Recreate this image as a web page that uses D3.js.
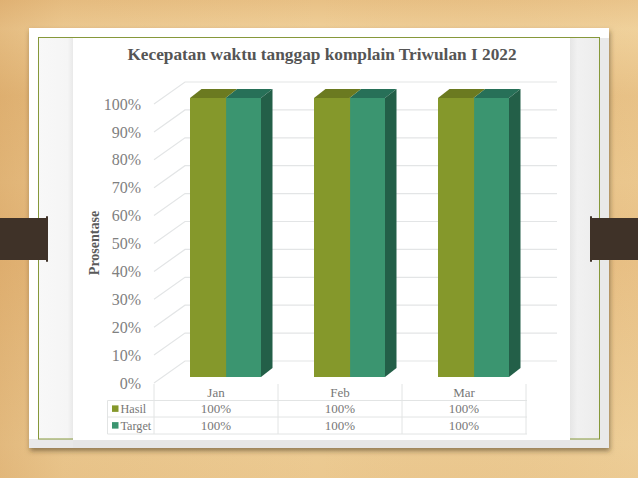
<!DOCTYPE html>
<html lang="en">
<head>
<meta charset="UTF-8">
<title>Kecepatan waktu tanggap komplain Triwulan I 2022</title>
<script src="https://d3js.org/d3.v7.min.js"></script>
<style>
    html, body { margin: 0; padding: 0; background: #e8c48a; }
    svg { display: block; }
    text { font-family: "Liberation Serif", serif; }
    .axis path { display: none; }
    .axis line { display: none; }
    .axis text { font-size: 16px; fill: #808080; }
    .grid { stroke: #e3e5e6; stroke-width: 1.2; fill: none; }
    .cell { stroke: #e2e4e4; stroke-width: 1; fill: none; }
    .tbl { font-size: 13px; fill: #777777; }
</style>
</head>
<body>
<svg width="638" height="478"></svg>
<script>
const months = ["Jan", "Feb", "Mar"];
const seriesNames = ["Hasil", "Target"];
const hasil = [1, 1, 1];
const target = [1, 1, 1];
const yTicks = [0, 0.1, 0.2, 0.3, 0.4, 0.5, 0.6, 0.7, 0.8, 0.9, 1];
const seriesValues = [hasil, target];

const front = ["#85982b", "#3b9570"];
const topFace = ["#6b7a20", "#277058"];
const sideFace = ["#6b7a20", "#235f48"];

const svg = d3.select("svg");
const defs = svg.append("defs");

// wood background
const wood = defs.append("linearGradient").attr("id", "wood").attr("x1", 0).attr("y1", 0).attr("x2", 0).attr("y2", 1);
[[0, "#e8c085"], [0.06, "#efcf98"], [0.2, "#e6bd80"], [0.38, "#e9c388"], [0.55, "#e6bb7e"], [0.75, "#e9c48a"], [0.93, "#eccb93"], [1, "#ebc88f"]]
    .forEach(s => wood.append("stop").attr("offset", s[0]).attr("stop-color", s[1]));
const woodSide = defs.append("linearGradient").attr("id", "woodSide").attr("x1", 0).attr("x2", 1).attr("y1", 0).attr("y2", 0);
[[0, "#c98a45", 0.28], [0.1, "#c98a45", 0.1], [0.5, "#c98a45", 0], [1, "#f3dcae", 0.15]]
    .forEach(s => woodSide.append("stop").attr("offset", s[0]).attr("stop-color", s[1]).attr("stop-opacity", s[2]));
const strip = defs.append("linearGradient").attr("id", "strip").attr("x1", 0).attr("x2", 1).attr("y1", 0).attr("y2", 0);
[[0, "#f8f8f8"], [0.85, "#f5f5f5"], [1, "#e9e9e9"]]
    .forEach(s => strip.append("stop").attr("offset", s[0]).attr("stop-color", s[1]));
const strip2 = defs.append("linearGradient").attr("id", "strip2").attr("x1", 0).attr("x2", 1).attr("y1", 0).attr("y2", 0);
[[0, "#e6e6e6"], [0.25, "#f1f1f1"], [1, "#ececec"]]
    .forEach(s => strip2.append("stop").attr("offset", s[0]).attr("stop-color", s[1]));
defs.append("filter").attr("id", "shadow").attr("x", "-5%").attr("y", "-5%").attr("width", "110%").attr("height", "110%")
    .append("feDropShadow").attr("dx", 1).attr("dy", 3).attr("stdDeviation", 2.5).attr("flood-color", "#4a3a20").attr("flood-opacity", 0.55);

svg.append("rect").attr("width", 638).attr("height", 478).attr("fill", "url(#wood)");
svg.append("rect").attr("width", 638).attr("height", 478).attr("fill", "url(#woodSide)");

// slide card
svg.append("rect").attr("x", 29).attr("y", 28).attr("width", 580).attr("height", 420).attr("fill", "#e9e9e9").attr("filter", "url(#shadow)");
svg.append("rect").attr("x", 29).attr("y", 28).attr("width", 580).attr("height", 10).attr("fill", "#ffffff");
svg.append("rect").attr("x", 29).attr("y", 28).attr("width", 9).attr("height", 411).attr("fill", "#ffffff");
svg.append("rect").attr("x", 38).attr("y", 38).attr("width", 35).attr("height", 401).attr("fill", "url(#strip)");
svg.append("rect").attr("x", 570).attr("y", 38).attr("width", 30).attr("height", 401).attr("fill", "url(#strip2)");
svg.append("rect").attr("x", 73).attr("y", 38).attr("width", 497).attr("height", 410).attr("fill", "#ffffff");
svg.append("rect").attr("x", 73).attr("y", 439).attr("width", 497).attr("height", 9).attr("fill", "#e6e6e6");
svg.append("rect").attr("x", 38.5).attr("y", 37.5).attr("width", 561).attr("height", 401.5).attr("fill", "none").attr("stroke", "#86983a").attr("stroke-width", 1);
svg.append("rect").attr("x", 73).attr("y", 437).attr("width", 497).attr("height", 3).attr("fill", "#ffffff");

// clips at the sides
svg.append("rect").attr("x", 0).attr("y", 218).attr("width", 47).attr("height", 42).attr("fill", "#3f3228");
svg.append("rect").attr("x", 46).attr("y", 216).attr("width", 2).attr("height", 46).attr("rx", 1).attr("fill", "#3f3228");
svg.append("rect").attr("x", 591).attr("y", 218).attr("width", 47).attr("height", 42).attr("fill", "#3f3228");
svg.append("rect").attr("x", 590).attr("y", 216).attr("width", 2).attr("height", 46).attr("rx", 1).attr("fill", "#3f3228");

// scales
const x = d3.scaleBand().domain(months).range([154, 526]);
const y = d3.scaleLinear().domain([0, 1]).range([383, 104]);
const xSeries = d3.scaleBand().domain(seriesNames).range([36, 107]);
const depthX = 31, depthY = 22;   // floor depth of the 3d box
const barDepthX = 11.5, barDepthY = 9;
const barShiftY = -6;             // bars stand a little behind the front edge

// gridlines: diagonal on the side wall, then along the back wall
svg.append("g").selectAll("path").data(yTicks).join("path")
    .attr("class", "grid")
    .attr("d", d => `M${x.range()[0]},${y(d)}L${x.range()[0] + depthX},${y(d) - depthY}L557,${y(d) - depthY}`);

svg.append("g")
    .attr("class", "axis")
    .attr("transform", "translate(141,0)")
    .call(d3.axisLeft(y).tickValues(yTicks).tickFormat(d3.format(".0%")).tickSize(0).tickPadding(0));

// bars, right series first so the faces overlap properly
const bars = svg.append("g");
seriesNames.map((s, i) => i).reverse().forEach(i => {
    months.forEach((m, j) => {
        const x0 = x(m) + xSeries(seriesNames[i]);
        const w = xSeries.bandwidth();
        const yTop = y(seriesValues[i][j]) + barShiftY;
        const yBase = y(0) + barShiftY;
        bars.append("path").attr("fill", topFace[i])
            .attr("d", `M${x0},${yTop}L${x0 + barDepthX},${yTop - barDepthY}L${x0 + w + barDepthX},${yTop - barDepthY}L${x0 + w},${yTop}Z`);
        if (i === seriesNames.length - 1) {
            bars.append("path").attr("fill", sideFace[i])
                .attr("d", `M${x0 + w},${yTop}L${x0 + w + barDepthX},${yTop - barDepthY}L${x0 + w + barDepthX},${yBase - barDepthY}L${x0 + w},${yBase}Z`);
        }
        // left faces are a touch wider to hide the seam
        bars.append("rect").attr("x", x0).attr("y", yTop).attr("width", i === 0 ? w + 0.6 : w).attr("height", yBase - yTop).attr("fill", front[i]);
    });
});

// data table
const rowY = d3.scaleBand().domain(seriesNames).range([400.5, 434]);
const table = svg.append("g");
const left = 107.5, right = x.range()[1] + 1;
table.selectAll("line.h").data([400.5, 417, 434]).join("line")
    .attr("class", "cell")
    .attr("x1", left).attr("x2", right).attr("y1", d => d).attr("y2", d => d);
table.selectAll("line.v").data(months.map(m => x(m)).concat(x.range()[1])).join("line")
    .attr("class", "cell")
    .attr("x1", d => d).attr("x2", d => d).attr("y1", 384).attr("y2", 434);
table.append("line").attr("class", "cell").attr("x1", left).attr("x2", left).attr("y1", 400.5).attr("y2", 434);

table.selectAll("text.month").data(months).join("text")
    .attr("class", "tbl month")
    .attr("x", d => x(d) + x.bandwidth() / 2)
    .attr("y", 397)
    .attr("text-anchor", "middle")
    .text(d => d);

seriesNames.forEach((s, i) => {
    const cy = rowY(s) + rowY.bandwidth() / 2;
    table.append("rect").attr("x", 112).attr("y", cy - 3.5).attr("width", 6.5).attr("height", 6.5).attr("fill", front[i]);
    table.append("text").attr("class", "tbl").attr("x", 120.5).attr("y", cy + 4).attr("font-size", 12).style("font-size", "12.2px").text(s);
    months.forEach((m, j) => {
        table.append("text").attr("class", "tbl")
            .attr("x", x(m) + x.bandwidth() / 2).attr("y", cy + 4)
            .attr("text-anchor", "middle")
            .text(d3.format(".0%")(seriesValues[i][j]));
    });
});

// titles
svg.append("text")
    .attr("x", 322).attr("y", 60)
    .attr("text-anchor", "middle")
    .attr("font-size", 17.3).attr("font-weight", "bold").attr("fill", "#555555")
    .text("Kecepatan waktu tanggap komplain Triwulan I 2022");
svg.append("text")
    .attr("transform", "translate(99,243) rotate(-90)")
    .attr("text-anchor", "middle")
    .attr("font-size", 14).attr("font-weight", "bold").attr("fill", "#5a5a5a")
    .text("Prosentase");
</script>
</body>
</html>
